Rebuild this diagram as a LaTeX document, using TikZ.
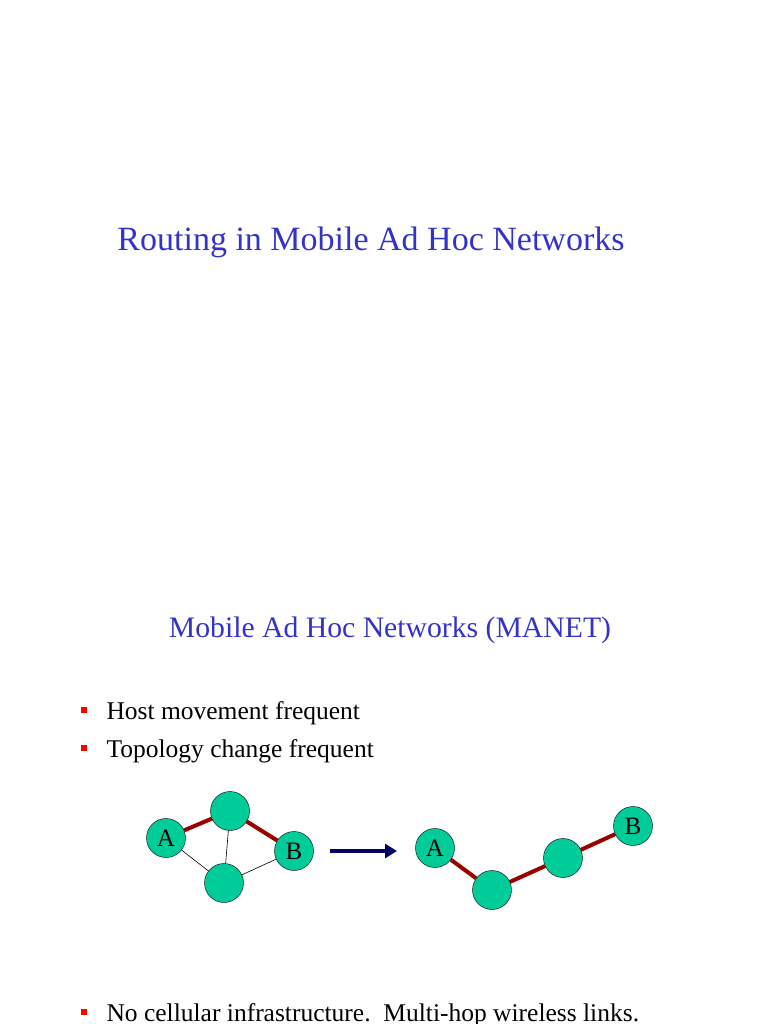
\documentclass[tikz,border=0pt]{standalone}
\usepackage{fontspec}
\setmainfont{Liberation Serif}
\usetikzlibrary{arrows.meta}
\definecolor{ttl}{RGB}{51,51,204}
\definecolor{nd}{RGB}{0,204,153}
\definecolor{lk}{RGB}{153,0,0}
\definecolor{ar}{RGB}{0,0,102}
\begin{document}
\begin{tikzpicture}[x=1pt,y=-1pt,
  host/.style={circle,draw=black,fill=nd,minimum size=39pt,inner sep=0pt,font=\fontsize{25}{27}\selectfont},
  route/.style={lk,line width=4pt},
  thin link/.style={black,line width=0.6pt},
  bul/.style={anchor=west,font=\fontsize{25.5}{29}\selectfont},
  sq/.style={fill=red,minimum size=5.5pt,inner sep=0pt}]
\useasboundingbox[fill=white] (0,0) rectangle (768,1024);
\node[text=ttl,font=\fontsize{34}{38}\selectfont] (title) at (371,242) {Routing in Mobile Ad Hoc Networks};
\node[text=ttl,font=\fontsize{29.7}{33}\selectfont] (sub) at (390,630) {Mobile Ad Hoc Networks (MANET)};
\node[sq] (b1) at (84,710) {}; \node[bul] (t1) at (103,713) {Host movement frequent};
\node[sq] (b2) at (84,748) {}; \node[bul] (t2) at (103,751) {Topology change frequent};
\node[sq] (b3) at (84,1012) {}; \node[bul] (t3) at (103,1015) {No cellular infrastructure.\ \ Multi-hop wireless links.};
% left graph
\node[host] (la) at (166,838) {A};
\node[host] (lt) at (230,811) {};
\node[host] (lb) at (294,851) {B};
\node[host] (lm) at (224,883) {};
\draw[route] (la) -- (lt);
\draw[route] (lt) -- (lb);
\draw[thin link] (la) -- (lm);
\draw[thin link] (lt) -- (lm);
\draw[thin link] (lm) -- (lb);
% arrow
\coordinate (as) at (330,851);
\coordinate (ae) at (397,851);
\draw[ar,line width=3.5pt,-{Triangle[length=12pt,width=14pt]}] (as) -- (ae);
% right graph
\node[host] (ra) at (435,848) {A};
\node[host] (r1) at (492,890) {};
\node[host] (r2) at (563,858) {};
\node[host] (rb) at (633,826) {B};
\draw[route] (ra) -- (r1);
\draw[route] (r1) -- (r2);
\draw[route] (r2) -- (rb);
\end{tikzpicture}
\end{document}
